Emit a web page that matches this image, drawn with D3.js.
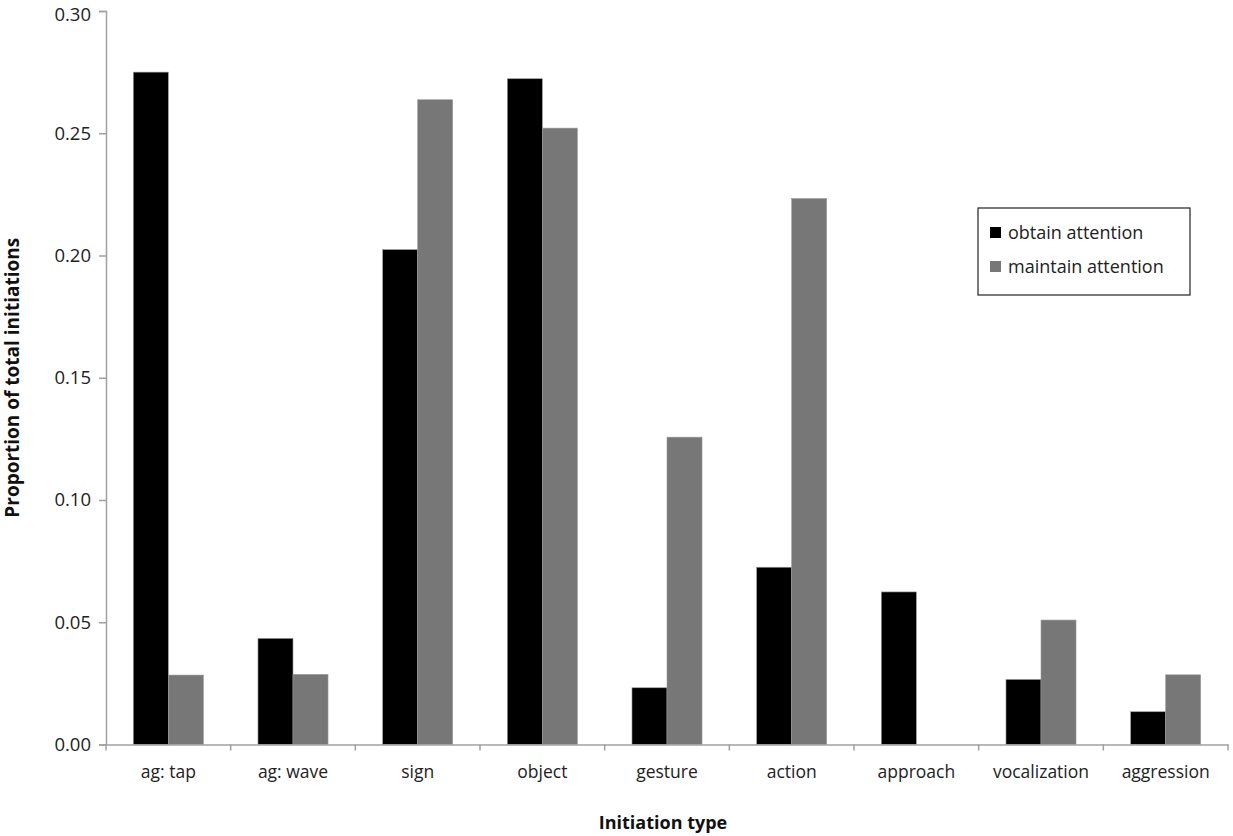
<!DOCTYPE html>
<html>
<head>
<meta charset="utf-8">
<script src="https://cdn.jsdelivr.net/npm/d3@7"></script>
<style>
  html, body { margin: 0; padding: 0; background: #fff; }
  svg { display: block; }
  text { font-family: "Open Sans", Lato, sans-serif; }
</style>
</head>
<body>
<svg id="chart" width="1233" height="836"></svg>
<script>
const categories = ["ag: tap", "ag: wave", "sign", "object", "gesture", "action", "approach", "vocalization", "aggression"];
const seriesNames = ["obtain attention", "maintain attention"];
const obtainValues = [0.275, 0.0434, 0.2024, 0.2723, 0.0232, 0.0725, 0.0624, 0.0266, 0.0134];
const maintainValues = [0.0284, 0.0287, 0.2637, 0.2521, 0.1257, 0.2233, 0, 0.0509, 0.0285];
const yTicks = [0, 0.05, 0.10, 0.15, 0.20, 0.25, 0.30];
const colors = ["#000000", "#777777"];

const svg = d3.select("#chart");
const x0 = 106, x1 = 1228, yTop = 11, yBot = 744.5;
const font = "'Open Sans', Lato, sans-serif";

const x = d3.scaleBand().domain(categories).range([x0, x1]).paddingInner(0).paddingOuter(0);
const xs = d3.scaleBand().domain(seriesNames).range([0, x.bandwidth()]).paddingInner(0).paddingOuter(0.78);
const y = d3.scaleLinear().domain([0, 0.30]).range([yBot, yTop]);

const axisColor = "#a0a0a0";

// bars
const series = [obtainValues, maintainValues];
series.forEach((vals, si) => {
  svg.append("g").selectAll("rect")
    .data(categories.map((c, i) => ({c, v: vals[i]})))
    .join("rect")
    .attr("x", d => x(d.c) + xs(seriesNames[si]))
    .attr("width", xs.bandwidth())
    .attr("y", d => y(d.v))
    .attr("height", d => yBot - y(d.v))
    .attr("fill", colors[si])
    .attr("stroke", d => d.v > 0 ? "#9a9a9a" : "none")
    .attr("stroke-width", 0.6);
});

// y axis
const yAxis = svg.append("g").attr("transform", `translate(${x0},0)`)
  .call(d3.axisLeft(y).tickValues(yTicks).tickFormat(d3.format(".2f")).tickSize(7).tickPadding(8));
yAxis.select(".domain").attr("stroke", axisColor).attr("stroke-width", 1.5);
yAxis.selectAll(".tick line").attr("stroke", axisColor).attr("stroke-width", 1.5);
yAxis.selectAll(".tick text").attr("fill", "#222").style("font-size", "18.5px").style("font-family", font)
  .attr("dy", d => d === 0.30 ? "0.5em" : "0.32em");

// x axis
const xAxis = svg.append("g").attr("transform", `translate(0,${yBot})`)
  .call(d3.axisBottom(x).tickSize(0).tickPadding(21));
xAxis.select(".domain").attr("stroke", axisColor).attr("stroke-width", 1.5);
xAxis.selectAll(".tick text").attr("fill", "#222").style("font-size", "17.5px").style("font-family", font);
// boundary tick marks
const bounds = categories.map(c => x(c)).concat([x1]);
svg.append("g").selectAll("line").data(bounds).join("line")
  .attr("x1", d => d).attr("x2", d => d)
  .attr("y1", yBot).attr("y2", yBot + 6)
  .attr("stroke", axisColor).attr("stroke-width", 1.5);

// axis titles
svg.append("text").attr("x", (x0 + x1) / 2 - 4).attr("y", 829).attr("text-anchor", "middle")
  .attr("font-weight", "bold").attr("font-size", 18).attr("fill", "#111").text("Initiation type");
svg.append("text").attr("transform", `translate(19,${(yTop + yBot) / 2}) rotate(-90)`).attr("text-anchor", "middle")
  .attr("font-weight", "bold").attr("font-size", 19).attr("fill", "#111").text("Proportion of total initiations");

// legend
const lg = svg.append("g").attr("transform", "translate(978,208)");
lg.append("rect").attr("x", 0).attr("y", 0).attr("width", 212).attr("height", 87)
  .attr("fill", "#fff").attr("stroke", "#222").attr("stroke-width", 1.2);
seriesNames.forEach((n, i) => {
  lg.append("rect").attr("x", 12).attr("y", 19 + i * 34).attr("width", 11).attr("height", 11).attr("fill", colors[i]);
  lg.append("text").attr("x", 30).attr("y", 31 + i * 34).attr("font-size", 18).attr("fill", "#222").text(n);
});
</script>
</body>
</html>
